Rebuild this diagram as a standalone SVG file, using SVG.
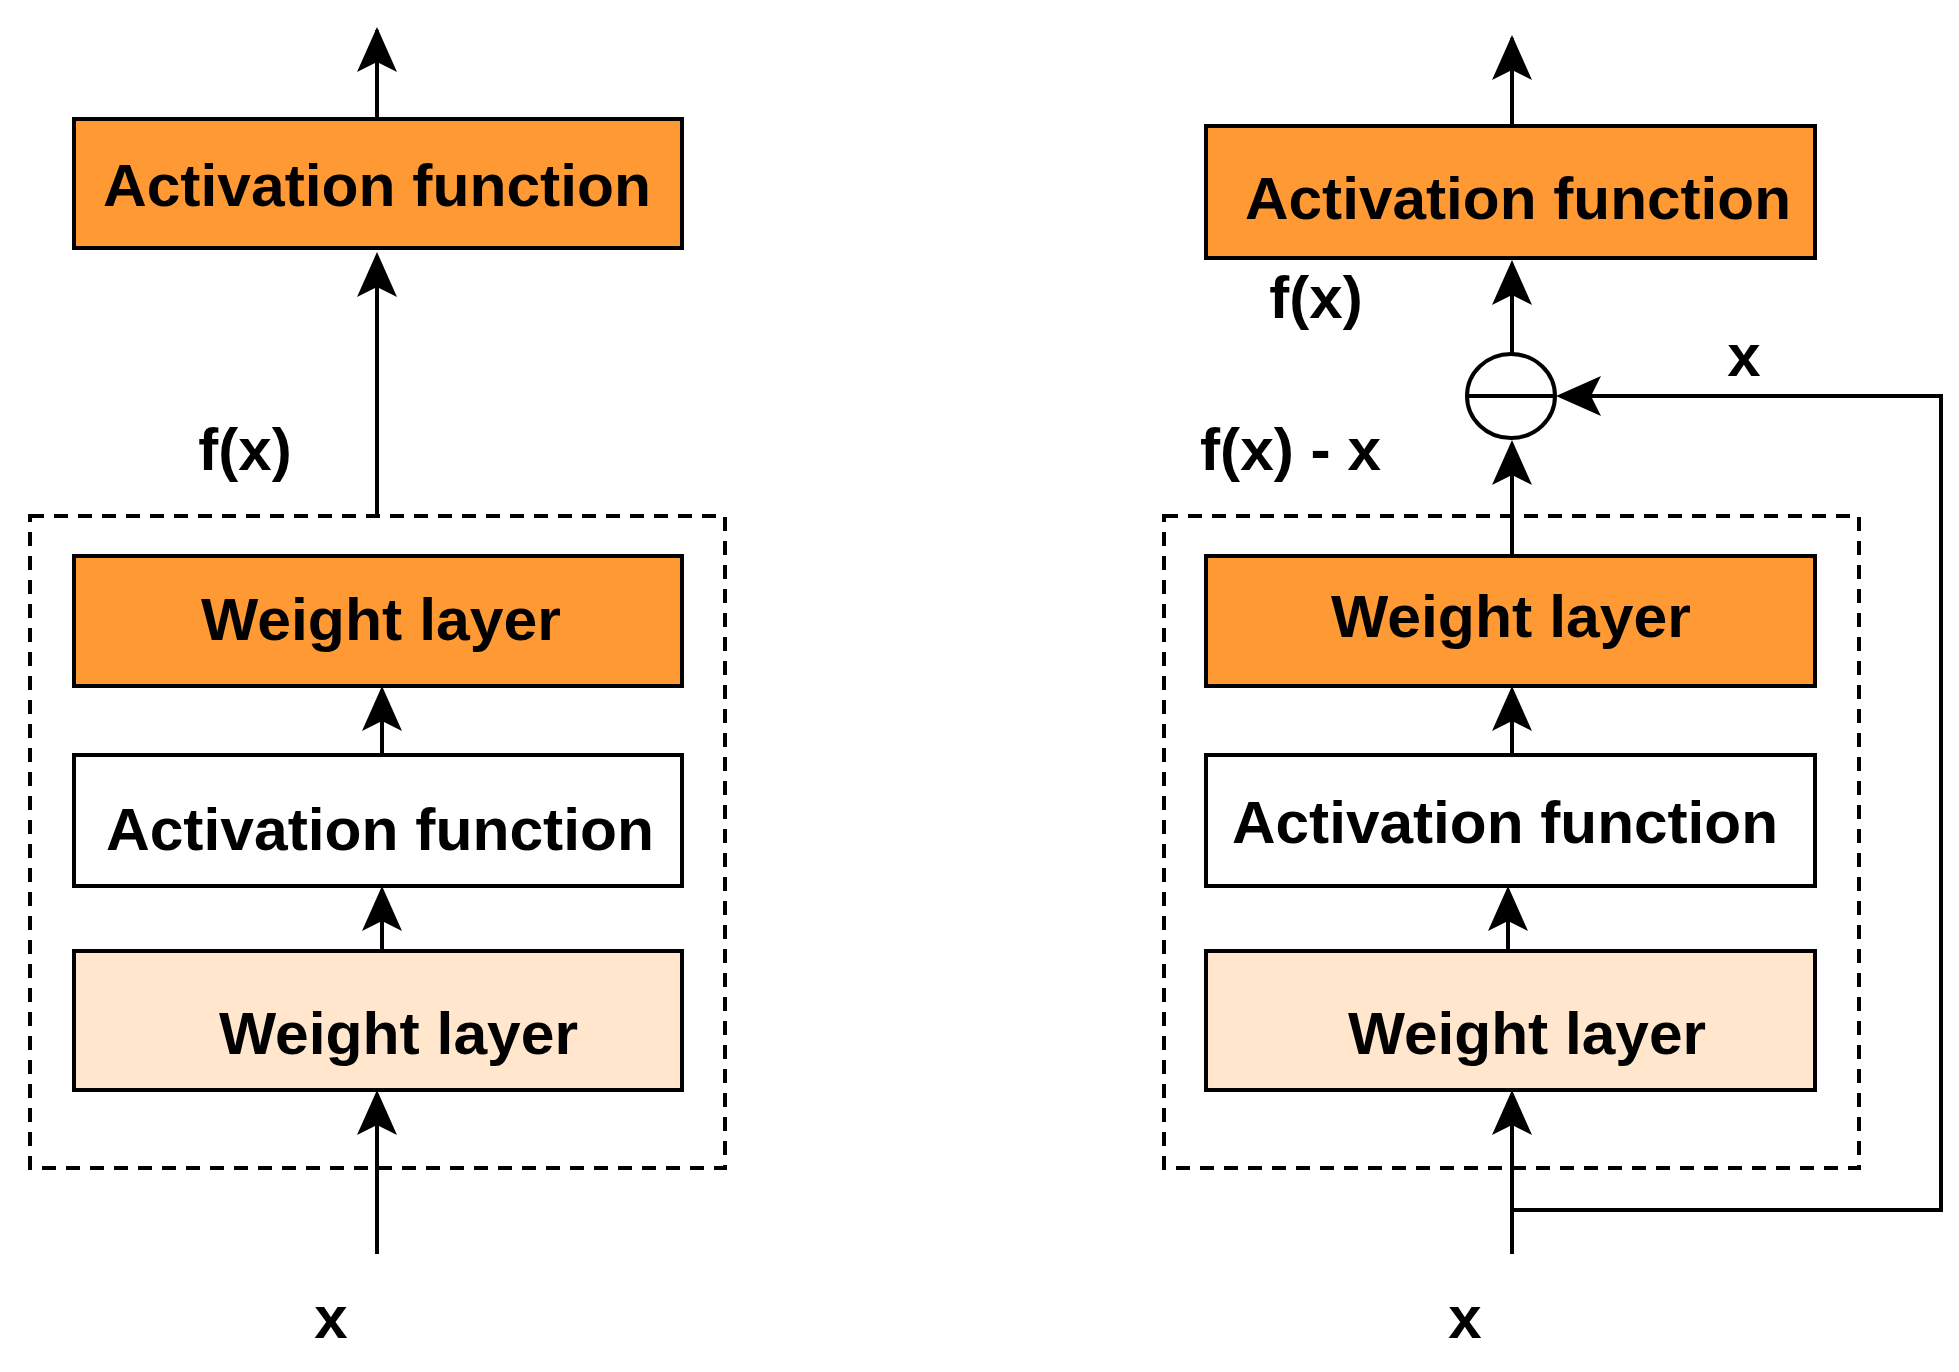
<svg xmlns="http://www.w3.org/2000/svg" width="1959" height="1372" viewBox="0 0 1959 1372">
<style>
.box{stroke:#000;stroke-width:4}
.or{fill:#FF9933}.lt{fill:#FFE6CC}.wh{fill:#fff}
.dash{fill:none;stroke:#000;stroke-width:4;stroke-dasharray:14 10}
.ln{fill:none;stroke:#000;stroke-width:4}
text{font-family:"Liberation Sans",Arial,sans-serif;font-weight:bold;font-size:60px;fill:#000}
</style>
<defs>
<marker id="ah" viewBox="0 0 20 20" refX="18" refY="10" markerWidth="10" markerHeight="10" markerUnits="userSpaceOnUse" orient="auto" style="overflow:visible">
<path d="M0,0 L40,18 L28,0 L40,-18 Z" transform="translate(-22,10) scale(1)" fill="#000"/>
</marker>
</defs>
<rect width="1959" height="1372" fill="#fff"/>
<g id="connectors">
<line class="ln" x1="377" y1="121" x2="377" y2="30"/><path d="M377,27 L397,72 L377,62 L357,72Z"/>
<line class="ln" x1="377" y1="516" x2="377" y2="256"/><path d="M377,252 L397,297 L377,287 L357,297Z"/>
<line class="ln" x1="382" y1="762" x2="382" y2="690"/><path d="M382,686 L402,731 L382,721 L362,731Z"/>
<line class="ln" x1="382" y1="951" x2="382" y2="890"/><path d="M382,886 L402,931 L382,921 L362,931Z"/>
<line class="ln" x1="377" y1="1254" x2="377" y2="1094"/><path d="M377,1090 L397,1135 L377,1125 L357,1135Z"/>
<line class="ln" x1="1512" y1="131" x2="1512" y2="38"/><path d="M1512,35 L1532,80 L1512,70 L1492,80Z"/>
<line class="ln" x1="1512" y1="354" x2="1512" y2="264"/><path d="M1512,260 L1532,305 L1512,295 L1492,305Z"/>
<line class="ln" x1="1512" y1="556" x2="1512" y2="444"/><path d="M1512,440 L1532,485 L1512,475 L1492,485Z"/>
<line class="ln" x1="1512" y1="755" x2="1512" y2="690"/><path d="M1512,686 L1532,731 L1512,721 L1492,731Z"/>
<line class="ln" x1="1508" y1="951" x2="1508" y2="890"/><path d="M1508,886 L1528,931 L1508,921 L1488,931Z"/>
<line class="ln" x1="1512" y1="1254" x2="1512" y2="1094"/><path d="M1512,1090 L1532,1135 L1512,1125 L1492,1135Z"/>
<polyline class="ln" points="1510,1210 1941,1210 1941,396 1560,396"/><path d="M1556,396 L1601,376 L1591,396 L1601,416Z"/>
</g>
<g id="left-group"><rect class="dash" x="30" y="516" width="695" height="652"/></g>
<g id="left-act-top"><rect class="box or" x="74" y="119" width="608" height="129"/><text x="103" y="206" textLength="548" lengthAdjust="spacingAndGlyphs">Activation function</text></g>
<g id="left-weight-top"><rect class="box or" x="74" y="556" width="608" height="130"/><text x="201" y="640" textLength="360" lengthAdjust="spacingAndGlyphs">Weight layer</text></g>
<g id="left-act"><rect class="box wh" x="74" y="755" width="608" height="131"/><text x="106" y="850" textLength="548" lengthAdjust="spacingAndGlyphs">Activation function</text></g>
<g id="left-weight-bottom"><rect class="box lt" x="74" y="951" width="608" height="139"/><text x="219" y="1054" textLength="359" lengthAdjust="spacingAndGlyphs">Weight layer</text></g>
<g id="left-labels"><text x="245" y="470" text-anchor="middle">f(x)</text><text x="331" y="1338" text-anchor="middle">x</text></g>
<g id="right-group"><rect class="dash" x="1164" y="516" width="695" height="652"/></g>
<g id="right-act-top"><rect class="box or" x="1206" y="126" width="609" height="132"/><text x="1245" y="219" textLength="546" lengthAdjust="spacingAndGlyphs">Activation function</text></g>
<g id="right-weight-top"><rect class="box or" x="1206" y="556" width="609" height="130"/><text x="1331" y="637" textLength="360" lengthAdjust="spacingAndGlyphs">Weight layer</text></g>
<g id="right-act"><rect class="box wh" x="1206" y="755" width="609" height="131"/><text x="1232" y="843" textLength="546" lengthAdjust="spacingAndGlyphs">Activation function</text></g>
<g id="right-weight-bottom"><rect class="box lt" x="1206" y="951" width="609" height="139"/><text x="1348" y="1054" textLength="358" lengthAdjust="spacingAndGlyphs">Weight layer</text></g>
<g id="sum"><ellipse class="ln" cx="1511" cy="396" rx="44" ry="42"/><line class="ln" x1="1467" y1="396" x2="1555" y2="396"/></g>
<g id="right-labels"><text x="1316" y="318" text-anchor="middle">f(x)</text><text x="1744" y="376" text-anchor="middle">x</text><text x="1200" y="470" textLength="181" lengthAdjust="spacingAndGlyphs">f(x) - x</text><text x="1465" y="1338" text-anchor="middle">x</text></g>
</svg>
